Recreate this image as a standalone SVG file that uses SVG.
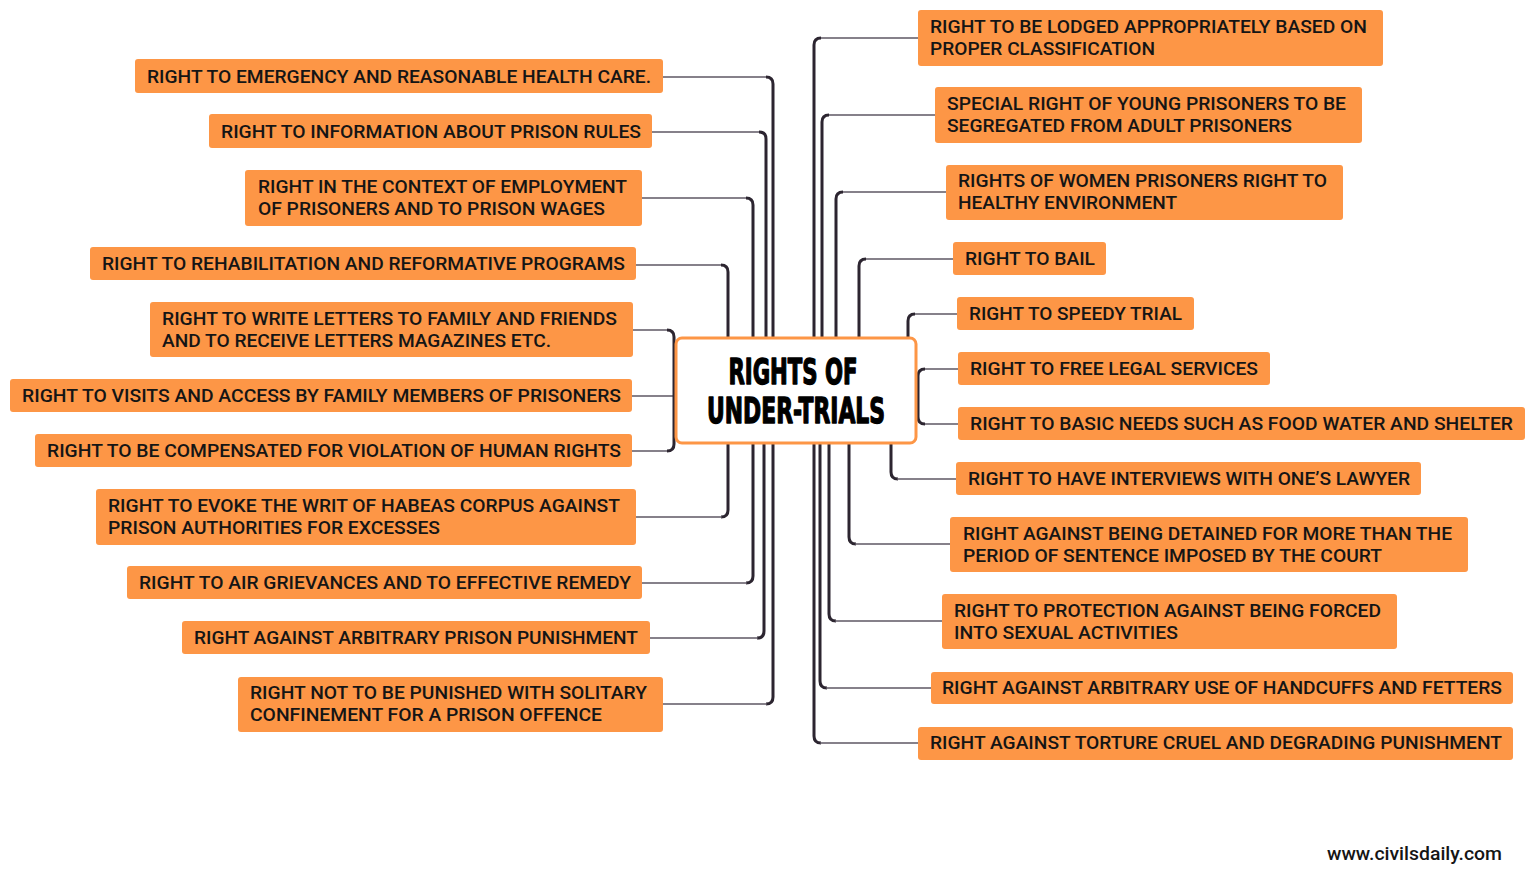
<svg xmlns="http://www.w3.org/2000/svg" width="1536" height="883" viewBox="0 0 1536 883">
<style>
.box{fill:#fd9646;}
.t{font-family:Roboto,"Liberation Sans",sans-serif;font-weight:500;font-size:18px;fill:#151515;}
.h{fill:none;stroke:#5e5763;stroke-width:1.5;}
.v{fill:none;stroke:#2c2530;stroke-width:3;}
.title{font-family:"Liberation Sans Narrow","DejaVu Sans Condensed","Liberation Sans",sans-serif;font-weight:bold;font-size:35px;fill:#000;stroke:#000;stroke-width:1.3;stroke-linejoin:round;}
</style>
<rect width="1536" height="883" fill="#fff"/>
<g id="connectors">
<path class="h" d="M663,77 H767"/><path class="v" d="M766,77 Q773,77 773,84 V340"/>
<path class="h" d="M652,132 H760"/><path class="v" d="M759,132 Q766,132 766,139 V340"/>
<path class="h" d="M642,198 H747"/><path class="v" d="M746,198 Q753,198 753,205 V340"/>
<path class="h" d="M636,265 H722"/><path class="v" d="M721,265 Q728,265 728,272 V340"/>
<path class="h" d="M633,330 H668"/><path class="h" d="M632,396 H676"/><path class="h" d="M632,451 H668"/>
<path class="v" d="M667,330 Q674,330 674,337 V444 Q674,451 667,451"/>
<path class="v" d="M728,441 V510 Q728,517 721,517"/><path class="h" d="M722,517 H636"/>
<path class="v" d="M753,441 V576 Q753,583 746,583"/><path class="h" d="M747,583 H642"/>
<path class="v" d="M764,441 V631 Q764,638 757,638"/><path class="h" d="M758,638 H650"/>
<path class="v" d="M773,441 V697 Q773,704 766,704"/><path class="h" d="M767,704 H663"/>
<path class="h" d="M918,38 H820"/><path class="v" d="M821,38 Q814,38 814,45 V340"/>
<path class="h" d="M935,115 H828"/><path class="v" d="M829,115 Q822,115 822,122 V340"/>
<path class="h" d="M946,192 H842"/><path class="v" d="M843,192 Q836,192 836,199 V340"/>
<path class="h" d="M953,259 H865"/><path class="v" d="M866,259 Q859,259 859,266 V340"/>
<path class="h" d="M957,314 H914"/><path class="v" d="M915,314 Q908,314 908,321 V340"/>
<path class="h" d="M958,369 H924"/><path class="h" d="M958,424 H924"/>
<path class="v" d="M925,369 Q918,369 918,376 V417 Q918,424 925,424"/>
<path class="v" d="M891,441 V472 Q891,479 898,479"/><path class="h" d="M897,479 H956"/>
<path class="v" d="M849,441 V537 Q849,544 856,544"/><path class="h" d="M855,544 H950"/>
<path class="v" d="M829,441 V614 Q829,621 836,621"/><path class="h" d="M835,621 H942"/>
<path class="v" d="M820,441 V681 Q820,688 827,688"/><path class="h" d="M826,688 H931"/>
<path class="v" d="M814,441 V736 Q814,743 821,743"/><path class="h" d="M820,743 H918"/>
</g>
<g id="center">
<rect x="676" y="338" width="240" height="105" rx="6" fill="#fff" stroke="#fd9646" stroke-width="3"/>
<text class="title" x="793" y="384" text-anchor="middle" textLength="129" lengthAdjust="spacingAndGlyphs">RIGHTS OF</text>
<text class="title" x="796" y="423" text-anchor="middle" textLength="178" lengthAdjust="spacingAndGlyphs">UNDER-TRIALS</text>
</g>
<g id="l1"><rect class="box" x="135" y="59" width="528" height="34" rx="3"/><text class="t" x="147" y="83" textLength="504" lengthAdjust="spacingAndGlyphs">RIGHT TO EMERGENCY AND REASONABLE HEALTH CARE.</text></g>
<g id="l2"><rect class="box" x="209" y="114" width="443" height="34" rx="3"/><text class="t" x="221" y="138" textLength="420" lengthAdjust="spacingAndGlyphs">RIGHT TO INFORMATION ABOUT PRISON RULES</text></g>
<g id="l3"><rect class="box" x="245" y="170" width="397" height="56" rx="3"/><text class="t" x="258" y="193" textLength="369" lengthAdjust="spacingAndGlyphs">RIGHT IN THE CONTEXT OF EMPLOYMENT</text><text class="t" x="258" y="215" textLength="347" lengthAdjust="spacingAndGlyphs">OF PRISONERS AND TO PRISON WAGES</text></g>
<g id="l4"><rect class="box" x="90" y="247" width="546" height="33" rx="3"/><text class="t" x="102" y="270" textLength="523" lengthAdjust="spacingAndGlyphs">RIGHT TO REHABILITATION AND REFORMATIVE PROGRAMS</text></g>
<g id="l5"><rect class="box" x="150" y="302" width="483" height="55" rx="3"/><text class="t" x="162" y="325" textLength="455" lengthAdjust="spacingAndGlyphs">RIGHT TO WRITE LETTERS TO FAMILY AND FRIENDS</text><text class="t" x="162" y="347" textLength="389" lengthAdjust="spacingAndGlyphs">AND TO RECEIVE LETTERS MAGAZINES ETC.</text></g>
<g id="l6"><rect class="box" x="10" y="379" width="622" height="33" rx="3"/><text class="t" x="22" y="402" textLength="599" lengthAdjust="spacingAndGlyphs">RIGHT TO VISITS AND ACCESS BY FAMILY MEMBERS OF PRISONERS</text></g>
<g id="l7"><rect class="box" x="35" y="434" width="597" height="33" rx="3"/><text class="t" x="47" y="457" textLength="574" lengthAdjust="spacingAndGlyphs">RIGHT TO BE COMPENSATED FOR VIOLATION OF HUMAN RIGHTS</text></g>
<g id="l8"><rect class="box" x="96" y="489" width="540" height="56" rx="3"/><text class="t" x="108" y="512" textLength="512" lengthAdjust="spacingAndGlyphs">RIGHT TO EVOKE THE WRIT OF HABEAS CORPUS AGAINST</text><text class="t" x="108" y="534" textLength="332" lengthAdjust="spacingAndGlyphs">PRISON AUTHORITIES FOR EXCESSES</text></g>
<g id="l9"><rect class="box" x="127" y="566" width="515" height="33" rx="3"/><text class="t" x="139" y="589" textLength="492" lengthAdjust="spacingAndGlyphs">RIGHT TO AIR GRIEVANCES AND TO EFFECTIVE REMEDY</text></g>
<g id="l10"><rect class="box" x="182" y="621" width="468" height="33" rx="3"/><text class="t" x="194" y="644" textLength="444" lengthAdjust="spacingAndGlyphs">RIGHT AGAINST ARBITRARY PRISON PUNISHMENT</text></g>
<g id="l11"><rect class="box" x="238" y="677" width="425" height="55" rx="3"/><text class="t" x="250" y="699" textLength="397" lengthAdjust="spacingAndGlyphs">RIGHT NOT TO BE PUNISHED WITH SOLITARY</text><text class="t" x="250" y="721" textLength="352" lengthAdjust="spacingAndGlyphs">CONFINEMENT FOR A PRISON OFFENCE</text></g>
<g id="r1"><rect class="box" x="918" y="10" width="465" height="56" rx="3"/><text class="t" x="930" y="33" textLength="437" lengthAdjust="spacingAndGlyphs">RIGHT TO BE LODGED APPROPRIATELY BASED ON</text><text class="t" x="930" y="55" textLength="225" lengthAdjust="spacingAndGlyphs">PROPER CLASSIFICATION</text></g>
<g id="r2"><rect class="box" x="935" y="87" width="427" height="56" rx="3"/><text class="t" x="947" y="110" textLength="399" lengthAdjust="spacingAndGlyphs">SPECIAL RIGHT OF YOUNG PRISONERS TO BE</text><text class="t" x="947" y="132" textLength="345" lengthAdjust="spacingAndGlyphs">SEGREGATED FROM ADULT PRISONERS</text></g>
<g id="r3"><rect class="box" x="946" y="165" width="397" height="55" rx="3"/><text class="t" x="958" y="187" textLength="369" lengthAdjust="spacingAndGlyphs">RIGHTS OF WOMEN PRISONERS RIGHT TO</text><text class="t" x="958" y="209" textLength="219" lengthAdjust="spacingAndGlyphs">HEALTHY ENVIRONMENT</text></g>
<g id="r4"><rect class="box" x="953" y="242" width="153" height="33" rx="3"/><text class="t" x="965" y="265" textLength="130" lengthAdjust="spacingAndGlyphs">RIGHT TO BAIL</text></g>
<g id="r5"><rect class="box" x="957" y="297" width="237" height="33" rx="3"/><text class="t" x="969" y="320" textLength="213" lengthAdjust="spacingAndGlyphs">RIGHT TO SPEEDY TRIAL</text></g>
<g id="r6"><rect class="box" x="958" y="352" width="312" height="33" rx="3"/><text class="t" x="970" y="375" textLength="288" lengthAdjust="spacingAndGlyphs">RIGHT TO FREE LEGAL SERVICES</text></g>
<g id="r7"><rect class="box" x="958" y="407" width="567" height="33" rx="3"/><text class="t" x="970" y="430" textLength="543" lengthAdjust="spacingAndGlyphs">RIGHT TO BASIC NEEDS SUCH AS FOOD WATER AND SHELTER</text></g>
<g id="r8"><rect class="box" x="956" y="462" width="465" height="33" rx="3"/><text class="t" x="968" y="485" textLength="442" lengthAdjust="spacingAndGlyphs">RIGHT TO HAVE INTERVIEWS WITH ONE’S LAWYER</text></g>
<g id="r9"><rect class="box" x="950" y="517" width="518" height="55" rx="3"/><text class="t" x="963" y="540" textLength="489" lengthAdjust="spacingAndGlyphs">RIGHT AGAINST BEING DETAINED FOR MORE THAN THE</text><text class="t" x="963" y="562" textLength="419" lengthAdjust="spacingAndGlyphs">PERIOD OF SENTENCE IMPOSED BY THE COURT</text></g>
<g id="r10"><rect class="box" x="942" y="594" width="455" height="55" rx="3"/><text class="t" x="954" y="617" textLength="427" lengthAdjust="spacingAndGlyphs">RIGHT TO PROTECTION AGAINST BEING FORCED</text><text class="t" x="954" y="639" textLength="224" lengthAdjust="spacingAndGlyphs">INTO SEXUAL ACTIVITIES</text></g>
<g id="r11"><rect class="box" x="931" y="672" width="582" height="32" rx="3"/><text class="t" x="942" y="694" textLength="560" lengthAdjust="spacingAndGlyphs">RIGHT AGAINST ARBITRARY USE OF HANDCUFFS AND FETTERS</text></g>
<g id="r12"><rect class="box" x="918" y="727" width="595" height="33" rx="3"/><text class="t" x="930" y="749" textLength="572" lengthAdjust="spacingAndGlyphs">RIGHT AGAINST TORTURE CRUEL AND DEGRADING PUNISHMENT</text></g>
<text id="watermark" class="t" x="1327" y="860" textLength="175" lengthAdjust="spacingAndGlyphs">www.civilsdaily.com</text>
</svg>
